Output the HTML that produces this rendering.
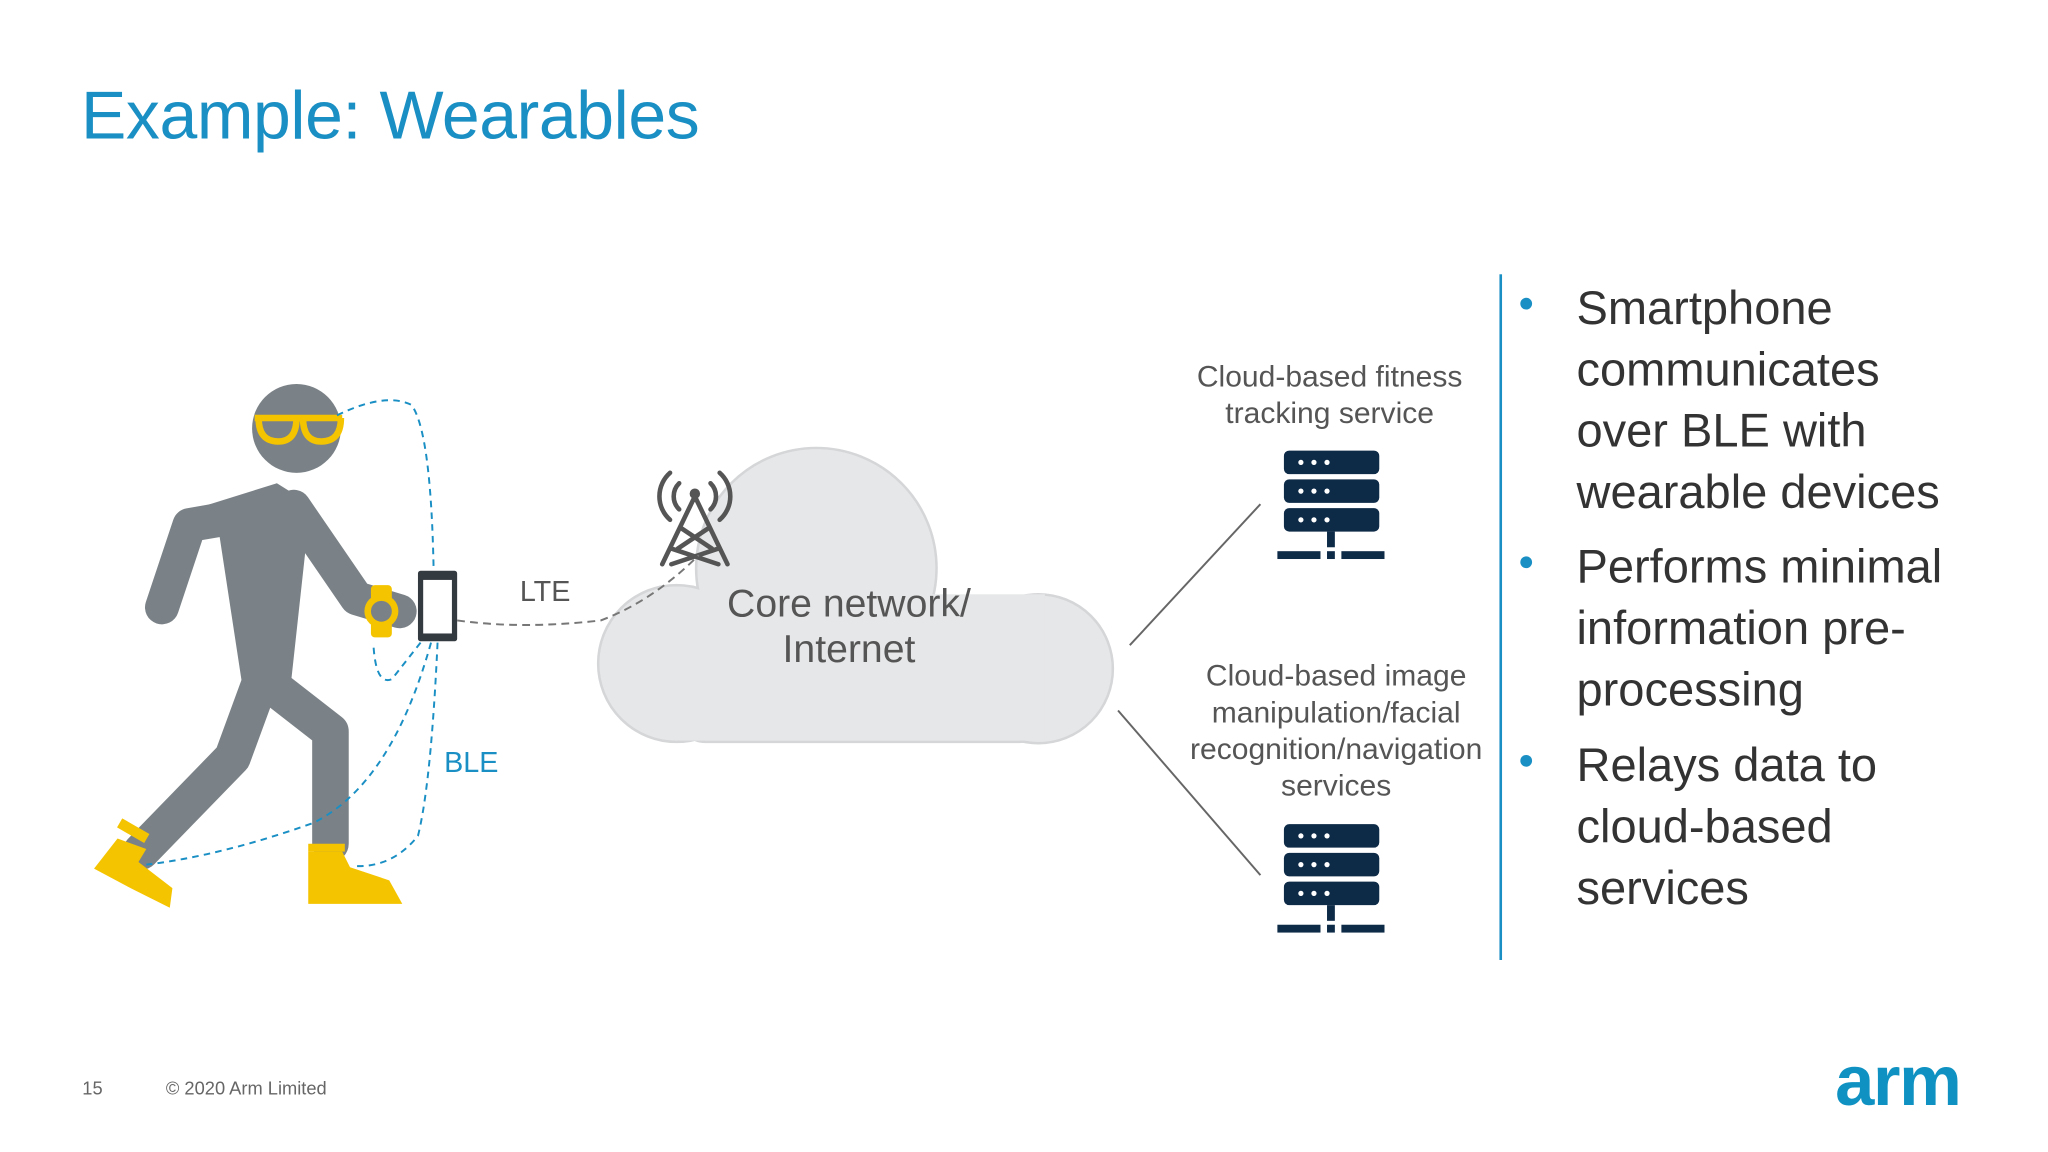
<!DOCTYPE html>
<html><head><meta charset="utf-8"><style>
html,body{margin:0;padding:0;background:#fff}
body{width:2048px;height:1152px;overflow:hidden;position:relative}
#w{position:absolute;left:0;top:0;width:1568px;height:882px;transform:scale(1.306122);transform-origin:0 0;font-family:"Liberation Sans",sans-serif}
.t{position:absolute;white-space:nowrap}
</style></head><body><div id="w">
<div class="t" style="left:62px;top:59px;font-size:52px;color:#1a8fc4;letter-spacing:-0.3px">Example: Wearables</div>
<div class="t" style="left:63px;top:825px;font-size:14px;color:#666">15</div>
<div class="t" style="left:127px;top:825px;font-size:14px;color:#666">© 2020 Arm Limited</div>
<div class="t" style="left:1405px;top:797px;font-size:54px;font-weight:bold;color:#0f92c2;letter-spacing:-1px">arm</div>
<div style="position:absolute;left:1148px;top:210px;width:2px;height:525px;background:#1a8fc4"></div>
<div style="position:absolute;left:1164px;top:228px;width:9px;height:9px;border-radius:50%;background:#1a8fc4"></div>
<div style="position:absolute;left:1164px;top:426px;width:9px;height:9px;border-radius:50%;background:#1a8fc4"></div>
<div style="position:absolute;left:1164px;top:578px;width:9px;height:9px;border-radius:50%;background:#1a8fc4"></div>
<div class="t" style="left:1207px;top:212px;font-size:36px;line-height:47px;color:#333">Smartphone<br>communicates<br>over BLE with<br>wearable devices</div>
<div class="t" style="left:1207px;top:410px;font-size:36px;line-height:47px;color:#333">Performs minimal<br>information pre-<br>processing</div>
<div class="t" style="left:1207px;top:562px;font-size:36px;line-height:47px;color:#333">Relays data to<br>cloud-based<br>services</div>
<div class="t" style="left:900px;top:274px;width:236px;text-align:center;font-size:23px;line-height:28px;color:#555">Cloud-based fitness<br>tracking service</div>
<div class="t" style="left:893px;top:503px;width:260px;text-align:center;font-size:23px;line-height:28px;color:#555">Cloud-based image<br>manipulation/facial<br>recognition/navigation<br>services</div>
<svg width="1568" height="882" style="position:absolute;left:0;top:0">
<g fill="#e6e7e8" stroke="#d5d6d8" stroke-width="2">
<circle cx="625" cy="435" r="92"/><circle cx="795" cy="512" r="57"/><circle cx="518" cy="508" r="60"/>
<rect x="520" y="460" width="280" height="108" rx="20"/>
</g>
<g fill="#e6e7e8"><circle cx="625" cy="435" r="91"/><circle cx="795" cy="512" r="56"/><circle cx="518" cy="508" r="59"/><rect x="520" y="455" width="280" height="112"/></g>
<text x="650" y="472" font-size="30" fill="#555" text-anchor="middle" font-family="Liberation Sans">Core network/</text>
<text x="650" y="507" font-size="30" fill="#555" text-anchor="middle" font-family="Liberation Sans">Internet</text>
<g stroke="#555" stroke-width="3.5" fill="none" stroke-linecap="round">
<path d="M532 380 L507 432 M532 380 L557 432 M521 404 L545 420 M543 404 L519 420 M514 420 L550 432 M550 420 L514 432"/>
<path d="M520 370 a14 14 0 0 0 0 20 M544 370 a14 14 0 0 1 0 20 M513 362 a24 24 0 0 0 0 36 M551 362 a24 24 0 0 1 0 36"/>
</g>
<circle cx="532" cy="378" r="4" fill="#555"/>
<g stroke="#666" stroke-width="1.5"><line x1="865" y1="494" x2="965" y2="386"/><line x1="856" y1="544" x2="965" y2="670"/></g>
<g fill="#0d2a47">
<rect x="983" y="345" width="73" height="18" rx="4"/><rect x="983" y="367" width="73" height="18" rx="4"/><rect x="983" y="389" width="73" height="18" rx="4"/>
<rect x="1016" y="407" width="6" height="12"/><rect x="978" y="422" width="33" height="6"/><rect x="1016" y="422" width="6" height="6"/><rect x="1027" y="422" width="33" height="6"/>
<rect x="983" y="631" width="73" height="18" rx="4"/><rect x="983" y="653" width="73" height="18" rx="4"/><rect x="983" y="675" width="73" height="18" rx="4"/>
<rect x="1016" y="693" width="6" height="12"/><rect x="978" y="708" width="33" height="6"/><rect x="1016" y="708" width="6" height="6"/><rect x="1027" y="708" width="33" height="6"/>
</g>
<g fill="#fff"><circle cx="996" cy="354" r="2"/><circle cx="1006" cy="354" r="2"/><circle cx="1016" cy="354" r="2"/>
<circle cx="996" cy="376" r="2"/><circle cx="1006" cy="376" r="2"/><circle cx="1016" cy="376" r="2"/>
<circle cx="996" cy="398" r="2"/><circle cx="1006" cy="398" r="2"/><circle cx="1016" cy="398" r="2"/>
<circle cx="996" cy="640" r="2"/><circle cx="1006" cy="640" r="2"/><circle cx="1016" cy="640" r="2"/>
<circle cx="996" cy="662" r="2"/><circle cx="1006" cy="662" r="2"/><circle cx="1016" cy="662" r="2"/>
<circle cx="996" cy="684" r="2"/><circle cx="1006" cy="684" r="2"/><circle cx="1016" cy="684" r="2"/></g>
<!-- person -->
<circle cx="227" cy="328" r="34" fill="#7b8287"/>
<path d="M148 390 L212 370 L236 385 L234 420 L222 530 L186 528 L168 410 Z" fill="#7b8287"/>
<g fill="none" stroke="#7b8287" stroke-linecap="round" stroke-linejoin="round">
<path d="M168 398 L145 402 L124 465" stroke-width="26"/>
<path d="M225 388 L273 458 L306 468" stroke-width="26"/>
<path d="M200 520 L178 580 L108 652" stroke-width="28"/>
<path d="M208 525 L253 560 L253 646" stroke-width="28"/>
</g>
<g fill="#f5c400">
<path d="M90 642 L112 650 L106 660 L132 680 L130 695 L100 680 L72 665 Z"/>
<rect x="90" y="632" width="24" height="8" transform="rotate(30 102 636)"/>
<path d="M236 652 L262 652 L268 664 L298 674 L308 692 L236 692 Z"/>
<rect x="236" y="646" width="28" height="6"/>
</g>
<g fill="none" stroke="#f5c400" stroke-width="5">
<path d="M195 320 h67"/><path d="M198 320 q0 18 15 18 q14 0 14 -18 M232 320 q0 18 14 18 q15 0 15 -18"/>
</g>
<circle cx="292" cy="468" r="13" fill="#f5c400"/><rect x="284" y="448" width="16" height="40" rx="3" fill="#f5c400"/>
<circle cx="292" cy="468" r="8" fill="#7b8287"/>
<rect x="320" y="437" width="30" height="54" rx="2" fill="#333a40"/><rect x="324" y="444" width="22" height="41" fill="#fff"/>
<g fill="none" stroke="#1a8fc4" stroke-width="1.5" stroke-dasharray="5 4">
<path d="M258 318 Q295 300 315 310 Q330 330 332 437"/>
<path d="M322 492 L300 520 Q288 525 286 495"/>
<path d="M330 492 Q300 600 240 630 Q170 655 112 662"/>
<path d="M335 492 Q330 600 320 640 Q300 665 270 663"/>
</g>
<path d="M350 475 Q400 482 460 475 Q500 460 535 425" fill="none" stroke="#777" stroke-width="1.5" stroke-dasharray="6 4"/>
<text x="398" y="460" font-size="22" fill="#555" font-family="Liberation Sans">LTE</text>
<text x="340" y="591" font-size="22" fill="#1a8fc4" font-family="Liberation Sans">BLE</text>
</svg>
</div></body></html>
